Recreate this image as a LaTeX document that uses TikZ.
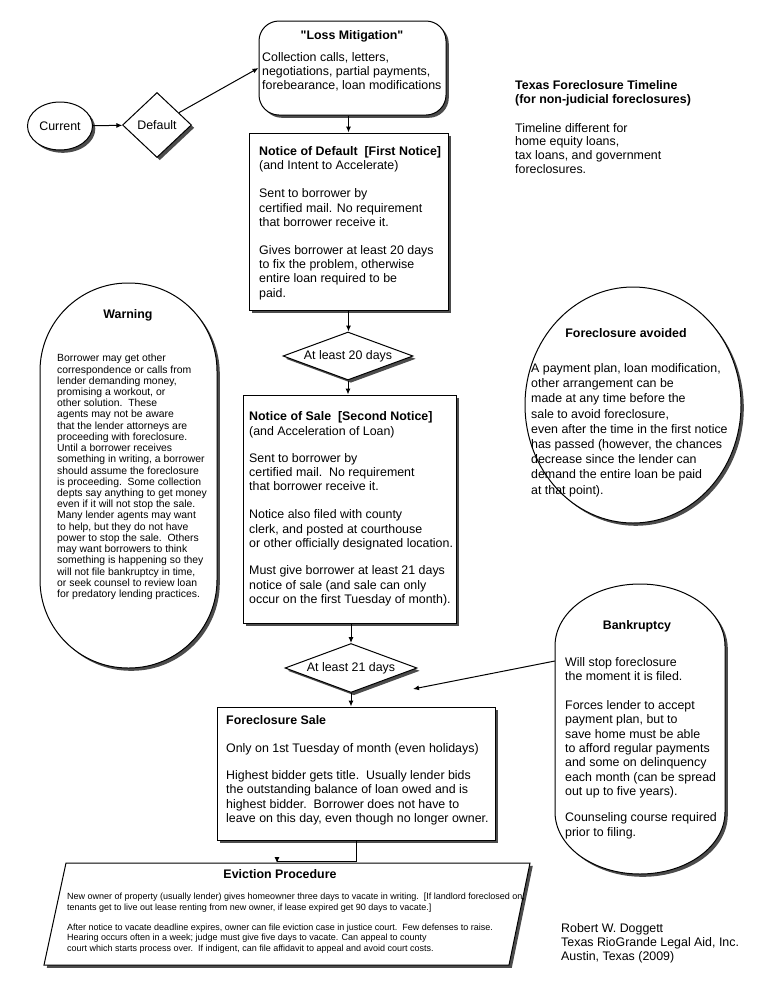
\documentclass[tikz,border=0pt]{standalone}
\usepackage{fontspec}
\setmainfont{Liberation Sans}
\usetikzlibrary{shapes.geometric,shadows,arrows.meta}
\newcommand{\fsA}{\fontsize{12.4pt}{14.2pt}\selectfont}
\newcommand{\fsCirc}{\fontsize{12.4pt}{15.2pt}\selectfont}
\newcommand{\fsBk}{\fontsize{12.4pt}{14.4pt}\selectfont}
\newcommand{\fsWarn}{\fontsize{10.4pt}{11.22pt}\selectfont}
\newcommand{\fsEv}{\fontsize{9pt}{10.4pt}\selectfont}
\newcommand{\sqt}{\XeTeXglyph\XeTeXglyphindex "quotedbl"\relax}
\begin{document}
\begin{tikzpicture}[x=1pt,y=-1pt,
  shp/.style={draw=black, line width=1pt, fill=white,
    drop shadow={shadow xshift=2.8pt,shadow yshift=-2.8pt,fill=black,opacity=0.7}},
  arr/.style={line width=1pt, -{Latex[length=6pt,width=5pt]}},
  txt/.style={inner sep=0pt, align=left, anchor=base west, font=\fsA},
  ttl/.style={inner sep=0pt, anchor=base, font=\fsA\bfseries},
  dia/.style={shp, diamond, inner sep=0pt, font=\fsA}]
\fill[white] (0,0) rectangle (768,994);
\useasboundingbox (0,0) rectangle (768,994);

% start
\node[shp, ellipse, minimum width=65pt, minimum height=48pt, inner sep=0pt, font=\fsA] (cur) at (60,126) {Current};
\node[dia, minimum width=69pt, minimum height=65pt] (dflt) at (157,125) {Default};

% loss mitigation
\node[shp, rectangle, rounded corners=20pt, minimum width=187pt, minimum height=94pt] (lm) at (352.5,68) {};
\node[ttl] (lmt) at (352,39) {\sqt Loss Mitigation\sqt};
\node[txt, font=\fontsize{12.4pt}{14pt}\selectfont] (lmb) at (262,89) {Collection calls, letters,\\negotiations, partial payments,\\forebearance, loan modifications};

% notice of default
\node[shp, rectangle, minimum width=199pt, minimum height=177pt] (nod) at (348.5,221.5) {};
\node[txt, font=\fontsize{12.4pt}{14pt}\selectfont] (nodp1) at (259,169.7) {\textbf{Notice of Default~~[First Notice]}\\(and Intent to Accelerate)};
\node[txt] (nodp2) at (259,226.3) {Sent to borrower by\\certified mail. No requirement\\that borrower receive it.};
\node[txt] (nodp3) at (259,297) {Gives borrower at least 20 days\\to fix the problem, otherwise\\entire loan required to be\\paid.};

% 20 days
\node[dia, minimum width=130pt, minimum height=48pt, shape aspect=2.7] (d20) at (348,356) {At least 20 days};

% notice of sale
\node[shp, rectangle, minimum width=213pt, minimum height=228pt] (nos) at (349.5,509) {};
\node[txt] (nosp1) at (249,435) {\textbf{Notice of Sale~~[Second Notice]}\\(and Acceleration of Loan)};
\node[txt] (nosp2) at (249,490.7) {Sent to borrower by\\certified mail.~~No requirement\\that borrower receive it.};
\node[txt] (nosp3) at (249,547.3) {Notice also filed with county\\clerk, and posted at courthouse\\or other officially designated location.};
\node[txt] (nosp4) at (249,603.3) {Must give borrower at least 21 days\\notice of sale (and sale can only\\occur on the first Tuesday of month).};

% 21 days
\node[dia, minimum width=132pt, minimum height=49pt, shape aspect=2.7] (d21) at (351,668) {At least 21 days};

% foreclosure sale
\node[shp, rectangle, minimum width=278pt, minimum height=133pt] (fs) at (356,773.5) {};
\node[txt, font=\fsA\bfseries] (fsp1) at (226,724.7) {Foreclosure Sale};
\node[txt] (fsp2) at (226,752.3) {Only on 1st Tuesday of month (even holidays)};
\node[txt] (fsp3) at (226,822.3) {Highest bidder gets title.~~Usually lender bids\\the outstanding balance of loan owed and is\\highest bidder.~~Borrower does not have to\\leave on this day, even though no longer owner.};

% eviction
\draw[shp] (44,965) -- (66,863) -- (530,863) -- (509,965) -- cycle;
\coordinate (evtop) at (277,863);
\node[ttl] (evt) at (280,878) {Eviction Procedure};
\node[txt, font=\fsEv] (evp1) at (67,910.3) {New owner of property (usually lender) gives homeowner three days to vacate in writing.~~[If landlord foreclosed on,\\tenants get to live out lease renting from new owner, if lease expired get 90 days to vacate.]};
\node[txt, font=\fsEv] (evp2) at (67,951.3) {After notice to vacate deadline expires, owner can file eviction case in justice court.~~Few defenses to raise.\\Hearing occurs often in a week; judge must give five days to vacate. Can appeal to county\\court which starts process over.~~If indigent, can file affidavit to appeal and avoid court costs.};

% warning
\node[shp, rectangle, rounded corners=88pt, minimum width=177pt, minimum height=385pt] (warn) at (128.5,475.5) {};
\node[ttl] (warnt) at (128,318) {Warning};
\node[txt, font=\fsWarn] (warnb) at (57,597.5) {Borrower may get other\\correspondence or calls from\\lender demanding money,\\promising a workout, or\\other solution.~~These\\agents may not be aware\\that the lender attorneys are\\proceeding with foreclosure.\\Until a borrower receives\\something in writing, a borrower\\should assume the foreclosure\\is proceeding.~~Some collection\\depts say anything to get money\\even if it will not stop the sale.\\Many lender agents may want\\to help, but they do not have\\power to stop the sale.~~Others\\may want borrowers to think\\something is happening so they\\will not file bankruptcy in time,\\or seek counsel to review loan\\for predatory lending practices.};

% foreclosure avoided
\node[shp, ellipse, minimum width=216pt, minimum height=236pt, inner sep=0pt] (fa) at (633,405) {};
\node[ttl] (fat) at (626,337) {Foreclosure avoided};
\node[txt, font=\fsCirc] (fab) at (531,494) {A payment plan, loan modification,\\other arrangement can be\\made at any time before the\\sale to avoid foreclosure,\\even after the time in the first notice\\has passed (however, the chances\\decrease since the lender can\\demand the entire loan be paid\\at that point).};

% bankruptcy
\node[inner sep=0pt, minimum width=170pt, minimum height=290pt] (bk) at (640,729) {};
\draw[shp] (555,646) arc[start angle=180, end angle=360, x radius=85, y radius=62]
  -- (725,812) arc[start angle=0, end angle=180, x radius=85, y radius=62] -- cycle;
\node[ttl] (bkt) at (637,629) {Bankruptcy};
\node[txt, font=\fsBk] (bkp1) at (565,680.7) {Will stop foreclosure\\the moment it is filed.};
\node[txt, font=\fsBk] (bkp2) at (565,795.7) {Forces lender to accept\\payment plan, but to\\save home must be able\\to afford regular payments\\and some on delinquency\\each month (can be spread\\out up to five years).};
\node[txt, font=\fsBk] (bkp3) at (565,836.3) {Counseling course required\\prior to filing.};
\coordinate (bkend) at (413,689);

% side texts
\node[txt, font=\fontsize{12.4pt}{14pt}\selectfont\bfseries] (tx1) at (515,103.3) {Texas Foreclosure Timeline\\(for non-judicial foreclosures)};
\node[txt, font=\fontsize{12.4pt}{13.7pt}\selectfont] (tx2) at (515,173.3) {Timeline different for\\home equity loans,\\tax loans, and government\\foreclosures.};
\node[txt, font=\fontsize{12.4pt}{13.9pt}\selectfont] (auth) at (561,960) {Robert W. Doggett\\Texas RioGrande Legal Aid, Inc.\\Austin, Texas (2009)};

% connectors
\draw[arr] (cur) -- (dflt);
\draw[arr] (dflt) -- (lm.west);
\draw[arr] (nod.north |- lm.south) -- (nod.north);
\draw[arr] (nod.south) -- (nod.south |- d20.north);
\draw[arr] (d20.south) -- (d20.south |- nos.north);
\draw[arr] (d21.north |- nos.south) -- (d21.north);
\draw[arr] (d21.south) -- (d21.south |- fs.north);
\draw[arr] (fs.south) -- ++(0,21) -| (evtop);
\draw[arr] ([yshift=68pt]bk.west) -- (bkend);
\end{tikzpicture}
\end{document}
